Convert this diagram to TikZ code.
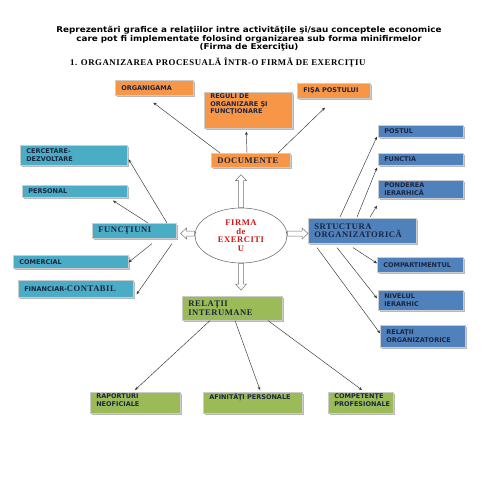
\documentclass[tikz,border=0pt]{standalone}
\usepackage{fontspec}
\setmainfont{Liberation Serif}
\newfontfamily\boxfont{DejaVu Sans}
\newfontfamily\lblfont{Liberation Serif}[LetterSpace=6]
\usetikzlibrary{arrows.meta,shadows,calc,shapes.geometric}
\definecolor{cOr}{HTML}{F79646}
\definecolor{cTe}{HTML}{4BACC6}
\definecolor{cBl}{HTML}{4F81BD}
\definecolor{cGr}{HTML}{9BBB59}
\definecolor{cTx}{HTML}{1C2540}
\definecolor{cAr}{HTML}{333333}
\definecolor{cRed}{HTML}{D01818}
\tikzset{
 box/.style={draw=white!80!black, line width=0.6pt, inner sep=0pt, anchor=north west,
   drop shadow={shadow xshift=1.3pt, shadow yshift=-1.3pt, fill=black!50, opacity=0.55},
   text=cTx, font=\boxfont\bfseries\fontsize{6.5}{7.4}\selectfont},
 arr/.style={draw=cAr, line width=0.45pt, -{Stealth[length=3.4pt,width=2.8pt]}},
 hollow/.style={draw=black!55, fill=white, line width=0.5pt},
}
\newcommand\bx[8]{\node[box, fill=#6, minimum width=#4pt, minimum height=#5pt] (#1) at (#2,#3)
  {\parbox[c][\dimexpr#5pt-3pt\relax][#7]{\dimexpr#4pt-12pt\relax}{\raggedright#8}};}
\newcommand\lb[1]{{\lblfont\bfseries\fontsize{8.6}{8.4}\selectfont #1}}
\begin{document}
\begin{tikzpicture}[x=1pt,y=-1pt]
\useasboundingbox[fill=white] (0,0) rectangle (495,495);
% title
\node[align=center, font=\boxfont\bfseries\fontsize{8}{7.9}\selectfont] (title) at (249,39.5)
 {\scalebox{1.1}[1]{\begin{tabular}{@{}c@{}}Reprezentări grafice a relaţiilor intre activităţile şi/sau conceptele economice\\
  care pot fi implementate folosind organizarea sub forma minifirmelor\\
  (Firma de Exerciţiu)\end{tabular}}};
\node[anchor=base west, inner sep=0pt, font=\lblfont\bfseries\fontsize{8.8}{9}\selectfont] (head) at (70,66)
 {1. ORGANIZAREA PROCESUALĂ ÎNTR-O FIRMĂ DE EXERCIŢIU};
% top (orange)
\bx{orgm}{115}{80}{78}{15}{cOr}{c}{ORGANIGAMA}
\bx{reg}{204}{92}{88}{36}{cOr}{t}{REGULI DE\\ORGANIZARE ŞI\\FUNCŢIONARE}
\bx{fisa}{297}{83}{73}{15}{cOr}{c}{\mbox{FIŞA POSTULUI}}
\bx{doc}{211}{153}{79}{14}{cOr}{c}{\lb{DOCUMENTE}}
% left (teal)
\bx{cerc}{20}{145}{107}{20}{cTe}{c}{CERCETARE-\\DEZVOLTARE}
\bx{pers}{22}{185}{105}{12}{cTe}{c}{PERSONAL}
\bx{func}{92}{223}{84}{15}{cTe}{c}{\lb{FUNCŢIUNI}}
\bx{com}{13}{255}{115}{13}{cTe}{c}{COMERCIAL}
\bx{fin}{18}{280}{115}{17}{cTe}{c}{\mbox{FINANCIAR-\lb{CONTABIL}}}
% right (blue)
\bx{post}{378}{125}{85}{12}{cBl}{c}{POSTUL}
\bx{fnc}{378}{153}{85}{12}{cBl}{c}{FUNCTIA}
\bx{pond}{378}{180}{85}{18}{cBl}{c}{PONDEREA\\IERARHICĂ}
\bx{str}{308}{218}{108}{25}{cBl}{c}{\lb{SRTUCTURA\\ORGANIZATORICĂ}}
\bx{comp}{377}{257}{86}{15}{cBl}{c}{\mbox{COMPARTIMENTUL}}
\bx{niv}{378}{290}{85}{20}{cBl}{c}{NIVELUL\\IERARHIC}
\bx{relo}{380}{325}{85}{22}{cBl}{c}{RELAŢII\\\mbox{ORGANIZATORICE}}
% bottom (green)
\bx{rel}{182}{296}{100}{24}{cGr}{c}{\lb{RELAŢII\\INTERUMANE}}
\bx{rap}{90}{392}{90}{21}{cGr}{t}{RAPORTURI\\NEOFICIALE}
\bx{afi}{203}{392}{99}{21}{cGr}{t}{\mbox{AFINITĂŢI PERSONALE}}
\bx{comt}{328}{392}{65}{21}{cGr}{t}{COMPETENŢE\\\mbox{PROFESIONALE}}
% centre
\node[ellipse, draw=black!55, fill=white, line width=0.6pt, minimum width=92pt, minimum height=55pt,
  inner sep=0pt, align=center, text=cRed, font=\lblfont\bfseries\fontsize{8.6}{8.6}\selectfont]
  (ell) at (241,235.5) {FIRMA\\de\\EXERCITI\\U};
% hollow arrows
\draw[hollow] let \p1=(ell.north), \p2=([yshift=-7pt]doc.south) in
  (\x1-2.5pt,\y1) -- (\x1-2.5pt,\y2-6pt) -- (\x1-5.5pt,\y2-6pt) -- (\x1,\y2) -- (\x1+5.5pt,\y2-6pt)
  -- (\x1+2.5pt,\y2-6pt) -- (\x1+2.5pt,\y1) -- cycle;
\draw[hollow] let \p1=(ell.south), \p2=([yshift=6pt]rel.north) in
  (\x1-2.5pt,\y1) -- (\x1-2.5pt,\y2+6pt) -- (\x1-5.5pt,\y2+6pt) -- (\x1,\y2) -- (\x1+5.5pt,\y2+6pt)
  -- (\x1+2.5pt,\y2+6pt) -- (\x1+2.5pt,\y1) -- cycle;
\draw[hollow] let \p1=([yshift=2pt]ell.west), \p2=([xshift=4pt]func.east) in
  (\x1,\y1-2.5pt) -- (\x2+6pt,\y1-2.5pt) -- (\x2+6pt,\y1-5.5pt) -- (\x2,\y1) -- (\x2+6pt,\y1+5.5pt)
  -- (\x2+6pt,\y1+2.5pt) -- (\x1,\y1+2.5pt) -- cycle;
\draw[hollow] let \p1=([yshift=2pt]ell.east), \p2=(str.west) in
  (\x1,\y1-2.5pt) -- (\x2-6pt,\y1-2.5pt) -- (\x2-6pt,\y1-5.5pt) -- (\x2,\y1) -- (\x2-6pt,\y1+5.5pt)
  -- (\x2-6pt,\y1+2.5pt) -- (\x1,\y1+2.5pt) -- cycle;
% arrows from DOCUMENTE
\draw[arr] ([shift={(9,0)}]doc.north west) -- ([shift={(-1,7)}]orgm.south);
\draw[arr] ([shift={(36,0)}]doc.north west) -- ([shift={(-2,3)}]reg.south);
\draw[arr] ([shift={(67,0)}]doc.north west) -- ([shift={(28,9)}]fisa.south west);
% arrows from FUNCTIUNI
\draw[arr] ([shift={(75,0)}]func.north west) -- ([shift={(1,4)}]cerc.east);
\draw[arr] ([shift={(56,0)}]func.north west) -- ([shift={(91,3)}]pers.south west);
\draw[arr] ([shift={(60,5)}]func.south west) -- ([shift={(0,0.5)}]com.east);
\draw[arr] ([shift={(80,5)}]func.south west) -- ([shift={(3,5.5)}]fin.east);
% arrows from STRUCTURA
\draw[arr] ([shift={(32,-1)}]str.north west) -- ([shift={(-1,-1)}]post.south west);
\draw[arr] ([shift={(49,-1)}]str.north west) -- ([shift={(-1,2)}]fnc.south west);
\draw[arr] ([shift={(62,-1)}]str.north west) -- ([shift={(-1,7)}]pond.south west);
\draw[arr] ([shift={(45,4)}]str.south west) -- ([shift={(0,-1.5)}]comp.west);
\draw[arr] ([shift={(29,4)}]str.south west) -- ([shift={(-1,-2)}]niv.west);
\draw[arr] ([shift={(9,4)}]str.south west) -- ([shift={(0,-3)}]relo.west);
% arrows from RELATII
\draw[arr] ([shift={(28,0)}]rel.south west) -- ([shift={(45,-2)}]rap.north west);
\draw[arr] ([shift={(53,0)}]rel.south west) -- ([shift={(57,-2)}]afi.north west);
\draw[arr] ([shift={(86,0)}]rel.south west) -- ([shift={(34,-2)}]comt.north west);
\end{tikzpicture}
\end{document}
